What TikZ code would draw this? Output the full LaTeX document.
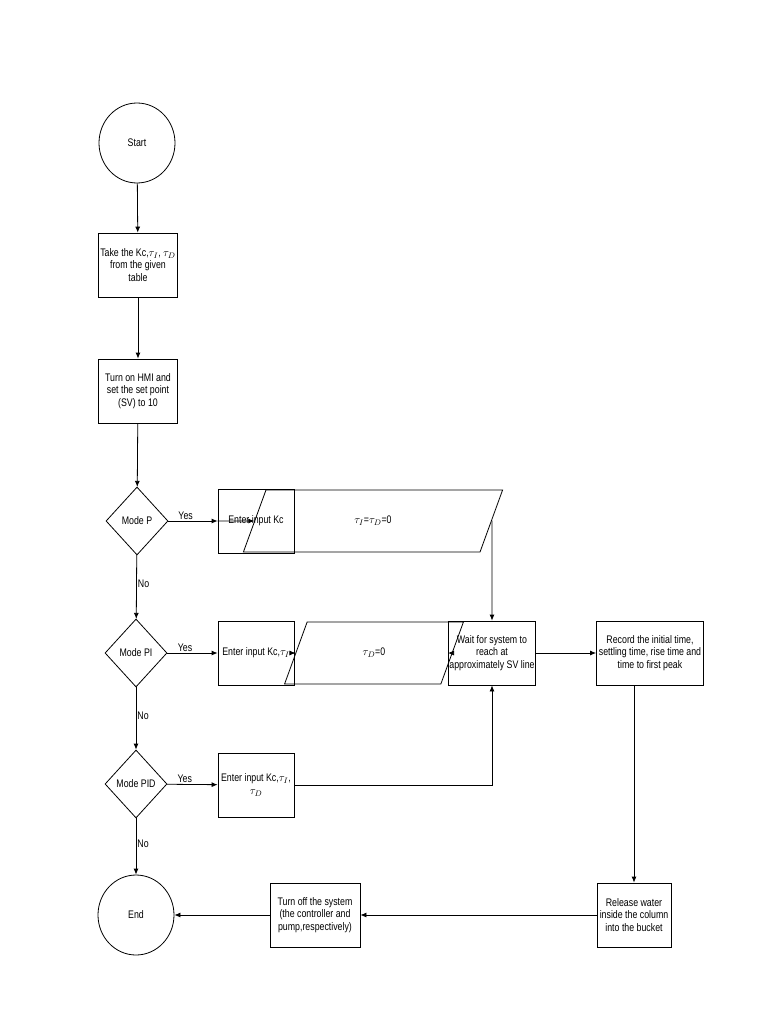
\documentclass[tikz,border=0pt]{standalone}
\usepackage{fontspec}
\setmainfont{Liberation Sans}[FakeStretch=0.8]
\usetikzlibrary{shapes.geometric,arrows.meta}
\begin{document}
\begin{tikzpicture}[x=1pt,y=-1pt,
 every node/.style={font=\fontsize{11}{12.5}\selectfont, align=center, inner sep=1pt},
 box/.style={draw, thick, minimum width=#1, minimum height=64},
 box/.default=76,
 dec/.style={draw, thick, diamond, minimum width=62, minimum height=68, inner sep=0pt, shape aspect=0.9},
 term/.style={draw, thick, ellipse, minimum width=76, minimum height=80},
 io/.style={draw, thick, trapezium, trapezium left angle=70, trapezium right angle=110, minimum width=60, minimum height=62},
 arr/.style={thick, -{Latex[length=6pt,width=5pt]}},
 lab/.style={font=\fontsize{11}{12}\selectfont}]
\useasboundingbox (0,0) rectangle (768,1024);
\node[term] (start) at (137,143) {Start};
\node[box=79] (take) at (138,265) {Take the Kc,$\tau_I$, $\tau_D$\\from the given\\table};
\node[box=79] (hmi) at (138,391) {Turn on HMI and\\set the set point\\(SV) to 10};
\node[dec] (p) at (137,521) {Mode P};
\node[dec] (pi) at (136,653) {Mode PI};
\node[dec] (pid) at (136,784) {Mode PID};
\node[term] (end) at (136,915) {End};
\node[box] (ekc) at (256,521) {Enter input Kc};
\node[box] (ekci) at (256,653) {Enter input Kc,$\tau_I$};
\node[box] (ekcid) at (256,785) {Enter input Kc,$\tau_I$,\\$\tau_D$};
\node[io] (par1) at (373,521) {$\tau_I$=$\tau_D$=0};
\node[io] (par2) at (374,653) {$\tau_D$=0};
\node[box=80] (wait) at (492,653) {Wait for system to\\reach at\\approximately SV line};
\node[box=107] (rec) at (650,653) {Record the initial time,\\settling time, rise time and\\time to first peak};
\node[box=74] (rel) at (634,915) {Release water\\inside the column\\into the bucket};
\node[box=90] (off) at (315,915) {Turn off the system\\(the controller and\\pump,respectively)};
\coordinate (c1) at (492,521);
\coordinate (c2) at (492,785);
\draw[arr] (start) -- (take);
\draw[arr] (take) -- (hmi);
\draw[arr] (hmi) -- (p);
\draw[arr] (p) -- node[lab,right,pos=0.45]{No} (pi);
\draw[arr] (pi) -- node[lab,right,pos=0.45]{No} (pid);
\draw[arr] (pid) -- node[lab,right,pos=0.45]{No} (end);
\draw[arr] (p) -- node[lab,above,pos=0.35]{Yes} (ekc);
\draw[arr] (pi) -- node[lab,above,pos=0.35]{Yes} (ekci);
\draw[arr] (pid) -- node[lab,above,pos=0.35]{Yes} (ekcid);
\draw[arr] (ekc) -- (par1);
\draw[arr] (ekci) -- (par2);
\draw[arr] (par1.east) -- (c1) -- (wait);
\draw[arr] (par2) -- (wait);
\draw[arr] (ekcid) -- (c2) -- (wait);
\draw[arr] (wait) -- (rec);
\draw[arr] (rec.south -| rel) -- (rel);
\draw[arr] (rel) -- (off);
\draw[arr] (off) -- (end);
\end{tikzpicture}
\end{document}
